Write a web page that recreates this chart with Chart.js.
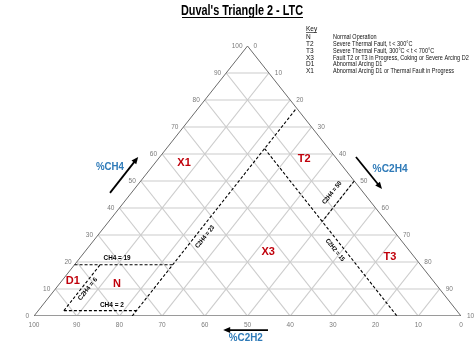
<!DOCTYPE html>
<html>
<head>
<meta charset="utf-8">
<script src="https://cdn.jsdelivr.net/npm/chart.js@4"></script>
<style>
  html, body { margin: 0; padding: 0; background: #fff; }
  #wrap { width: 474px; height: 346px; }
</style>
</head>
<body>
<div id="wrap"><canvas id="duval" width="474" height="346"></canvas></div>
<script>
// every component runs 0..100, grid every 10
const gridSteps = [10, 20, 30, 40, 50, 60, 70, 80, 90];
const axisTicks = [0, 10, 20, 30, 40, 50, 60, 70, 80, 90, 100];

// zone boundaries, end points as [CH4, C2H4] (C2H2 is the rest)
const boundaryLabels = ["CH4 = 19", "CH4 = 2", "C2H4 = 6", "C2H4 = 23", "C2H4 = 50", "C2H2 = 15"];
const boundaryStart = [[19, 0], [2, 6], [2, 6], [0, 23], [50, 50], [62, 23]];
const boundaryEnd = [[19, 23], [2, 23], [19, 6], [77, 23], [35, 50], [0, 85]];
const boundaryFamily = ["CH4", "CH4", "C2H4", "C2H4", "C2H4", "C2H2"];

// zone names written inside the triangle
const zoneCodes = ["X1", "T2", "X3", "T3", "D1", "N"];

// key
const keyCodes = ["N", "T2", "T3", "X3", "D1", "X1"];
const keyText = [
  "Normal Operation",
  "Severe Thermal Fault, t < 300°C",
  "Severe Thermal Fault, 300°C < t < 700°C",
  "Fault T2 or T3 in Progress, Coking or Severe Arcing D2",
  "Abnormal Arcing D1",
  "Abnormal Arcing D1 or Thermal Fault in Progress"
];

// where the text sits, [CH4, C2H4]
const zoneLabelAt = [[56.7, 6.8], [58.1, 34.2], [23.7, 43], [21.9, 72.4], [13, 2.6], [11.9, 13.5]];
const boundaryLabelAt = [[21.5, 8.7], [4.1, 16.2], [10, 7.6], [29.3, 25.4], [45.6, 47], [24.4, 58.3]];

const FONT = "'Liberation Sans', Arial, sans-serif";

// ternary -> cartesian data space
function toXY(ch4, c2h4) {
  return { x: c2h4 + ch4 / 2, y: ch4 };
}

function segment(a, b, color, width, dash, order) {
  return {
    data: [toXY(a[0], a[1]), toXY(b[0], b[1])],
    showLine: true,
    borderColor: color,
    borderWidth: width,
    borderDash: dash,
    pointRadius: 0,
    order: order
  };
}

const datasets = [];

// dashed zone boundaries (on top)
boundaryStart.forEach((s, i) => {
  datasets.push(segment(s, boundaryEnd[i], "#000", 1.1, [3, 2], 0));
});

// triangle outline
datasets.push(segment([0, 0], [100, 0], "#6b6b6b", 1, [], 1));
datasets.push(segment([100, 0], [0, 100], "#6b6b6b", 1, [], 1));
datasets.push(segment([0, 0], [0, 100], "#9a9a9a", 2, [], 1));

// grid
gridSteps.forEach(v => {
  datasets.push(segment([v, 0], [v, 100 - v], "#cccccc", 1.2, [], 2));       // CH4 = v
  datasets.push(segment([0, v], [100 - v, v], "#cccccc", 1.2, [], 2));       // C2H4 = v
  datasets.push(segment([0, 100 - v], [100 - v, 0], "#cccccc", 1.2, [], 2)); // C2H2 = v
});

function arrow(ctx, x1, y1, x2, y2) {
  const a = Math.atan2(y2 - y1, x2 - x1);
  ctx.save();
  ctx.strokeStyle = "#000";
  ctx.fillStyle = "#000";
  ctx.lineWidth = 1.8;
  ctx.beginPath();
  ctx.moveTo(x1, y1);
  ctx.lineTo(x2 - 4 * Math.cos(a), y2 - 4 * Math.sin(a));
  ctx.stroke();
  ctx.beginPath();
  ctx.moveTo(x2, y2);
  ctx.lineTo(x2 - 7 * Math.cos(a) + 3 * Math.sin(a), y2 - 7 * Math.sin(a) - 3 * Math.cos(a));
  ctx.lineTo(x2 - 7 * Math.cos(a) - 3 * Math.sin(a), y2 - 7 * Math.sin(a) + 3 * Math.cos(a));
  ctx.closePath();
  ctx.fill();
  ctx.restore();
}

const ternaryText = {
  id: "ternaryText",
  afterDatasetsDraw(chart) {
    const { ctx } = chart;
    const sx = chart.scales.x, sy = chart.scales.y;
    const P = (ch4, c2h4) => [sx.getPixelForValue(c2h4 + ch4 / 2), sy.getPixelForValue(ch4)];
    const D = (x, y) => [sx.getPixelForValue(x), sy.getPixelForValue(y)];

    ctx.save();
    ctx.textBaseline = "middle";

    // tick labels
    ctx.font = "6.5px " + FONT;
    ctx.fillStyle = "#7a7a7a";
    axisTicks.forEach(v => {
      let p = P(v, 0);
      ctx.textAlign = "right";
      ctx.fillText(String(v), p[0] - 5, p[1]);
      p = P(100 - v, v);
      ctx.textAlign = "left";
      ctx.fillText(String(v), p[0] + 6, p[1]);
      p = P(0, 100 - v);
      ctx.textAlign = "center";
      ctx.fillText(String(v), p[0], p[1] + 9);
    });

    // boundary labels, turned along their line
    const o = P(0, 0), up = P(1, 0);
    const angC2H4 = Math.atan2(up[1] - o[1], up[0] - o[0]);
    const angC2H2 = Math.atan2(P(0, 1)[1] - up[1], P(0, 1)[0] - up[0]);
    ctx.font = "bold 6.5px " + FONT;
    ctx.fillStyle = "#000";
    ctx.textAlign = "center";
    boundaryLabels.forEach((t, i) => {
      const p = P(boundaryLabelAt[i][0], boundaryLabelAt[i][1]);
      let a = 0;
      if (boundaryFamily[i] === "C2H4") a = angC2H4;
      if (boundaryFamily[i] === "C2H2") a = angC2H2;
      ctx.save();
      ctx.translate(p[0], p[1]);
      ctx.rotate(a);
      ctx.fillText(t, 0, 0, 27);
      ctx.restore();
    });

    // zone codes
    ctx.font = "bold 11px " + FONT;
    ctx.fillStyle = "#c0000b";
    zoneCodes.forEach((t, i) => {
      const p = P(zoneLabelAt[i][0], zoneLabelAt[i][1]);
      ctx.fillText(t, p[0], p[1]);
    });

    // axis titles
    ctx.font = "bold 10.5px " + FONT;
    ctx.fillStyle = "#2e7ab8";
    let q = D(17.8, 55.2);
    ctx.fillText("%CH4", q[0], q[1], 28);
    q = D(83.4, 54.4);
    ctx.fillText("%C2H4", q[0], q[1], 35);
    q = D(49.6, -8.1);
    ctx.fillText("%C2H2", q[0], q[1], 34);

    // axis arrows
    let a1 = D(17.8, 45.6), a2 = D(24.4, 58.9);
    arrow(ctx, a1[0], a1[1], a2[0], a2[1]);
    a1 = D(75.4, 58.9); a2 = D(81.5, 47);
    arrow(ctx, a1[0], a1[1], a2[0], a2[1]);
    a1 = D(54.8, -5.2); a2 = D(44.3, -5.2);
    arrow(ctx, a1[0], a1[1], a2[0], a2[1]);

    // title
    ctx.fillStyle = "#000";
    ctx.strokeStyle = "#000";
    ctx.font = "bold 15px " + FONT;
    ctx.textAlign = "center";
    ctx.fillText("Duval's Triangle 2 - LTC", 242, 11, 122);
    ctx.lineWidth = 1;
    ctx.beginPath();
    ctx.moveTo(182, 17.5);
    ctx.lineTo(303, 17.5);
    ctx.stroke();

    // key
    ctx.textAlign = "left";
    ctx.font = "6.5px " + FONT;
    ctx.fillStyle = "#111";
    ctx.fillText("Key", 306, 29);
    ctx.lineWidth = 0.6;
    ctx.beginPath();
    ctx.moveTo(306, 32.5);
    ctx.lineTo(317, 32.5);
    ctx.stroke();
    keyCodes.forEach((c, i) => {
      const yy = 37.5 + i * 6.8;
      ctx.fillText(c, 306, yy);
      const w = ctx.measureText(keyText[i]).width;
      ctx.fillText(keyText[i], 333, yy, Math.min(w * 0.85, 138));
    });
    ctx.restore();
  }
};

new Chart(document.getElementById("duval"), {
  type: "scatter",
  data: { datasets: datasets },
  options: {
    responsive: false,
    animation: false,
    events: [],
    layout: { padding: { left: 34, right: 13, top: 46, bottom: 30 } },
    scales: {
      x: { type: "linear", min: 0, max: 100, display: false },
      y: { type: "linear", min: 0, max: 100, display: false }
    },
    plugins: { legend: { display: false }, tooltip: { enabled: false }, title: { display: false } }
  },
  plugins: [ternaryText]
});
</script>
</body>
</html>
